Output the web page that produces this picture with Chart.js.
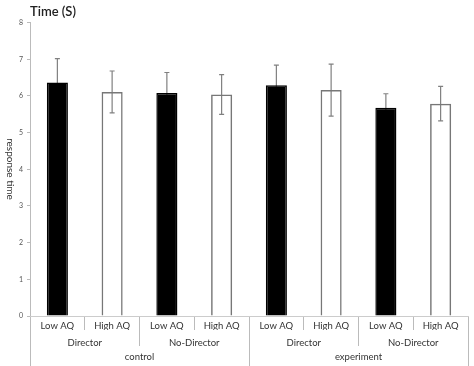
<!DOCTYPE html>
<html>
<head>
<meta charset="utf-8">
<script src="https://cdn.jsdelivr.net/npm/chart.js@4"></script>
<style>
  html, body { margin: 0; padding: 0; background: #fff; }
  #wrap { width: 474px; height: 366px; }
</style>
</head>
<body>
<div id="wrap"><canvas id="c" width="474" height="366"></canvas></div>
<script>
// ---- data ----
const categories = ['Low AQ', 'High AQ', 'Low AQ', 'High AQ', 'Low AQ', 'High AQ', 'Low AQ', 'High AQ'];
const groups = ['Director', 'No-Director', 'Director', 'No-Director'];
const conditions = ['control', 'experiment'];
const means = [6.37, 6.11, 6.08, 6.04, 6.29, 6.16, 5.68, 5.79];
const errors = [0.65, 0.57, 0.56, 0.54, 0.55, 0.71, 0.38, 0.47];
const yTicks = [0, 1, 2, 3, 4, 5, 6, 7, 8];

const FONT = 'Lato, "Open Sans", sans-serif';
const fills = categories.map(c => c === 'Low AQ' ? '#000000' : 'rgba(255,255,255,0)');
const borders = categories.map(c => c === 'Low AQ' ? '#000000' : '#777777');

const errorBars = {
  id: 'errorBars',
  beforeDatasetsDraw(chart) {
    const ctx = chart.ctx;
    const y = chart.scales.y;
    const meta = chart.getDatasetMeta(0);
    ctx.save();
    ctx.strokeStyle = '#808080';
    ctx.lineWidth = 1.2;
    meta.data.forEach((bar, i) => {
      const x = bar.x;
      const top = y.getPixelForValue(means[i] + errors[i]);
      const bot = y.getPixelForValue(means[i] - errors[i]);
      ctx.beginPath();
      ctx.moveTo(x, top); ctx.lineTo(x, bot);
      ctx.moveTo(x - 2.5, top); ctx.lineTo(x + 2.5, top);
      ctx.moveTo(x - 2.5, bot); ctx.lineTo(x + 2.5, bot);
      ctx.stroke();
    });
    ctx.restore();
  }
};

const yTitle = {
  id: 'yTitle',
  afterDraw(chart) {
    const ctx = chart.ctx;
    ctx.save();
    ctx.translate(10, 169);
    ctx.rotate(Math.PI / 2);
    ctx.font = '10px ' + FONT;
    ctx.fillStyle = '#333';
    ctx.textAlign = 'center';
    ctx.textBaseline = 'middle';
    ctx.fillText('response time', 0, 0);
    ctx.restore();
  }
};

new Chart(document.getElementById('c'), {
  type: 'bar',
  data: {
    labels: categories,
    datasets: [{
      data: means,
      backgroundColor: fills,
      borderColor: borders,
      borderWidth: 1.5,
      barPercentage: 0.385,
      categoryPercentage: 1.0,
      xAxisID: 'x',
      yAxisID: 'y'
    }]
  },
  options: {
    responsive: false,
    animation: false,
    devicePixelRatio: 1,
    layout: { padding: { left: 0, right: 6, top: 0, bottom: 0 } },
    plugins: {
      legend: { display: false },
      tooltip: { enabled: false },
      title: {
        display: true,
        text: 'Time (S)',
        align: 'start',
        fullSize: false,
        color: '#222',
        font: { family: FONT, size: 13, weight: '600' },
        padding: { top: 4, bottom: 3 }
      }
    },
    scales: {
      y: {
        min: 0, max: 8,
        afterBuildTicks: s => { s.ticks = yTicks.map(v => ({ value: v })); },
        afterFit: s => { s.width = 30; },
        grid: { display: true, drawOnChartArea: false, drawTicks: true, tickLength: 3, color: '#bbbbbb' },
        border: { display: true, color: '#bbbbbb', width: 1 },
        ticks: { color: '#555', font: { family: FONT, size: 7 }, padding: 4 }
      },
      x: {
        type: 'category',
        position: 'bottom',
        weight: 1,
        offset: true,
        afterFit: s => { s.height = 14; },
        grid: { offset: true, drawOnChartArea: false, drawTicks: true, tickLength: 14, color: '#bbbbbb' },
        border: { display: true, color: '#cccccc' },
        ticks: { color: '#333', font: { family: FONT, size: 9.5 }, padding: -10, autoSkip: false, maxRotation: 0 }
      },
      x2: {
        type: 'category',
        position: 'bottom',
        weight: 2,
        labels: groups,
        offset: true,
        afterFit: s => { s.height = 16; },
        grid: { offset: true, drawOnChartArea: false, drawTicks: true, tickLength: 16, color: '#bbbbbb' },
        border: { display: false },
        ticks: { color: '#333', font: { family: FONT, size: 9.5 }, padding: -9, autoSkip: false, maxRotation: 0 }
      },
      x3: {
        type: 'category',
        position: 'bottom',
        weight: 3,
        labels: conditions,
        offset: true,
        afterFit: s => { s.height = 20; },
        grid: { offset: true, drawOnChartArea: false, drawTicks: true, tickLength: 20, color: '#bbbbbb' },
        border: { display: false },
        ticks: { color: '#333', font: { family: FONT, size: 9.5 }, padding: -15, autoSkip: false, maxRotation: 0 }
      }
    }
  },
  plugins: [errorBars, yTitle]
});
</script>
</body>
</html>
